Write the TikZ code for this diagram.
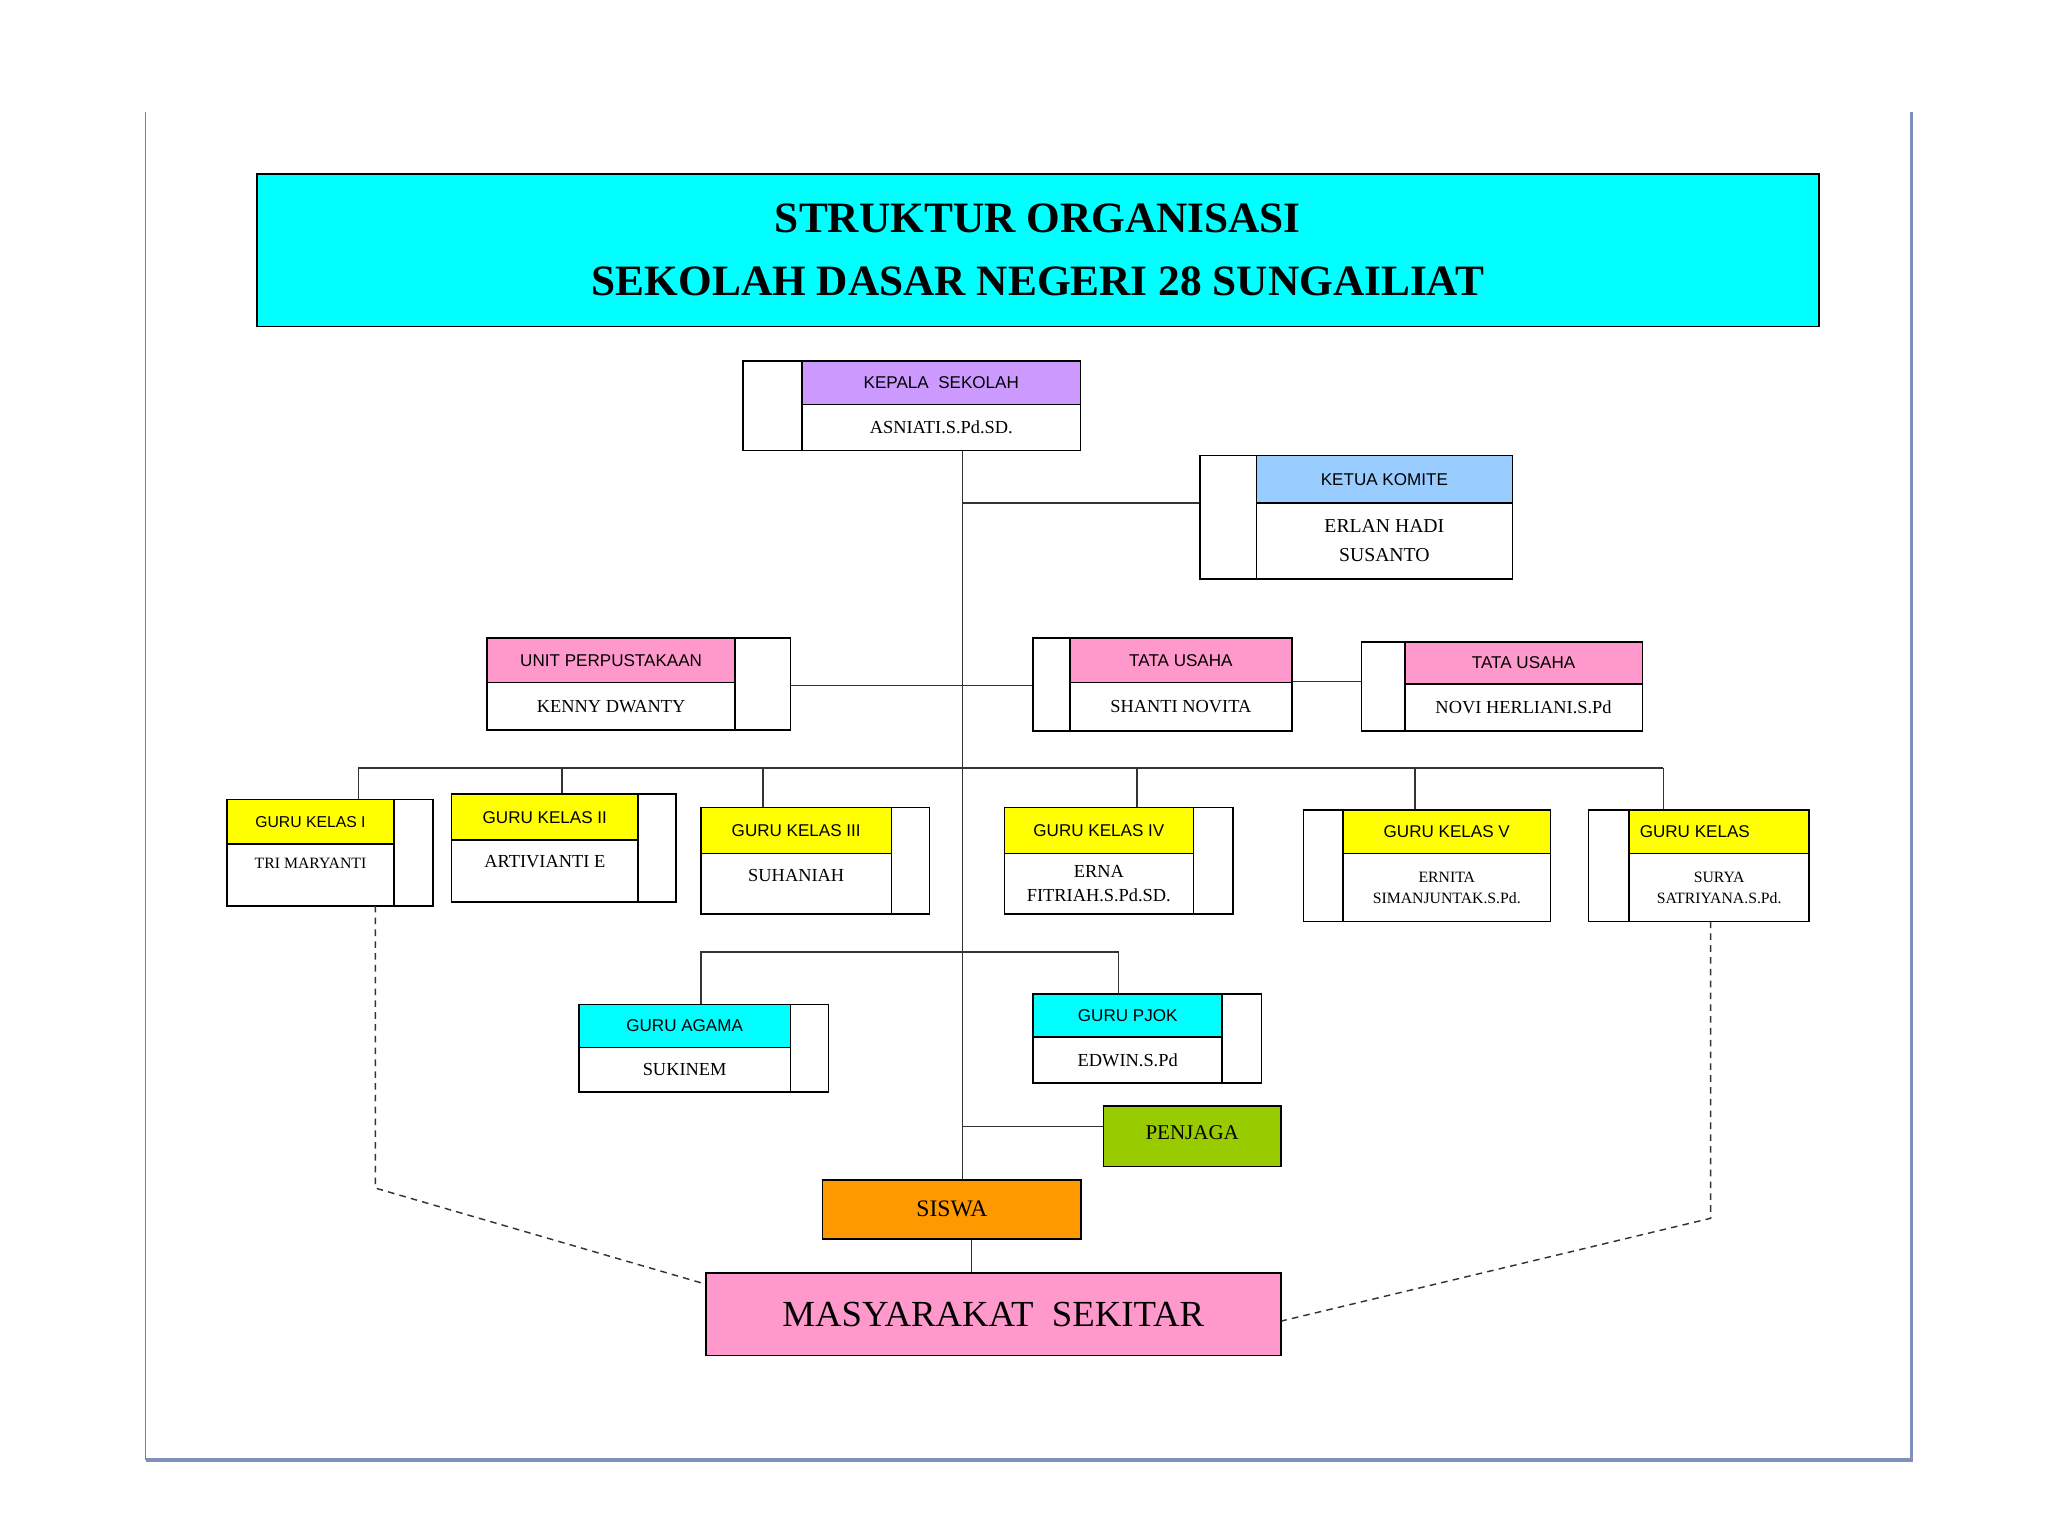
\documentclass[tikz,border=0pt]{standalone}
\usepackage{fontspec}
\usetikzlibrary{calc}
\setmainfont{Liberation Serif}
\newfontfamily\hsans{Liberation Sans}
\definecolor{tcyan}{HTML}{00FFFF}
\definecolor{tpurple}{HTML}{CC99FF}
\definecolor{tblue}{HTML}{99CCFF}
\definecolor{tpink}{HTML}{FF99CC}
\definecolor{tyellow}{HTML}{FFFF00}
\definecolor{tgreen}{HTML}{99CC00}
\definecolor{torange}{HTML}{FF9900}
\definecolor{shadow}{HTML}{8090B8}
\tikzset{
  boxline/.style={draw=black,line width=1.2pt},
  conn/.style={draw=black!80,line width=1.2pt},
  dline/.style={draw=black!80,line width=1.1pt,dash pattern=on 5pt off 4pt},
  htext/.style={font=\hsans\fontsize{13}{15}\selectfont},
  btext/.style={font=\fontsize{14}{16}\selectfont,align=center},
  stext/.style={font=\fontsize{12}{13}\selectfont,align=center},
}
\newcommand\obox[9]{%
  \draw[boxline,fill=white] (#3,#4) rectangle (#5,#6);
  \draw[boxline,fill=#2] (#7,#4) rectangle (#8,#9);
  \draw[boxline] (#7,#9) rectangle (#8,#6);
  \coordinate (#1-h) at ({(#7+#8)/2},{(#4+#9)/2});
  \coordinate (#1-b) at ({(#7+#8)/2},{(#9+#6)/2});
  \coordinate (#1-nw) at (#3,#4);
  \coordinate (#1-se) at (#5,#6);
}
\begin{document}
\begin{tikzpicture}[x=1pt,y=-1pt]
\useasboundingbox (0,0) rectangle (1560,1170);
\fill[white] (0,0) rectangle (1560,1170);
% page frame
\coordinate (pa) at (111,85); \coordinate (pb) at (111,1112);
\coordinate (pc) at (1456,1112); \coordinate (pd) at (1456,85);
\draw[black!50,line width=1pt] (pa) -- (pb);
\draw[shadow,line width=3pt] (pb) -- (pc) -- (pd);
% title
\node[draw=black,line width=1.2pt,fill=tcyan,minimum width=1190pt,minimum height=116pt,anchor=north west,
  font=\bfseries\fontsize{33}{48}\selectfont,align=center] (title) at (195,132)
  {STRUKTUR ORGANISASI\\SEKOLAH DASAR NEGERI 28 SUNGAILIAT};
% junction coordinates
\coordinate (jtop) at (733,343);
\coordinate (jkom) at (733,383);
\coordinate (jtu) at (733,522);
\coordinate (jg) at (733,585);
\coordinate (ja) at (733,725);
\coordinate (jp) at (733,858);
\coordinate (jbot) at (733,898);
% connectors (drawn first)
\draw[conn] (jtop) -- (jbot);
\draw[conn] (jkom) -- (914,383) coordinate (komL);
\draw[conn] (602,522) coordinate (perR) -- (787,522) coordinate (tuL);
\draw[conn] (984,519) coordinate (tuR) -- (1037,519) coordinate (tu2L);
\draw[conn] (273,585) coordinate (gL) -- (1267,585) coordinate (gR);
\foreach \x/\y in {273/609,428/605,581/615,866/615,1078/617,1267/617}
  \draw[conn] (\x,585) -- (\x,\y);
\draw[conn] (534,765) -- (534,725) coordinate (aL) -- (852,725) coordinate (aR) -- (852,757);
\draw[conn] (jp) -- (840,858);
\draw[conn] (740,943) -- (740,969);
% boxes
\obox{kep}{tpurple}{566}{275}{823}{343}{611}{823}{308}
\node[htext] at (kep-h) {KEPALA\ \ SEKOLAH};
\node[btext] at (kep-b) {ASNIATI.S.Pd.SD.};
\obox{kom}{tblue}{914}{347}{1152}{441}{957}{1152}{383}
\node[htext] at (kom-h) {KETUA KOMITE};
\node[btext,font=\fontsize{15}{22}\selectfont] at (kom-b) {ERLAN HADI\\SUSANTO};
\obox{per}{tpink}{371}{486}{602}{556}{371}{560}{520}
\node[htext] at (per-h) {UNIT PERPUSTAKAAN};
\node[btext] at (per-b) {KENNY DWANTY};
\obox{tu}{tpink}{787}{486}{984}{557}{815}{984}{520}
\node[htext] at (tu-h) {TATA USAHA};
\node[btext] at (tu-b) {SHANTI NOVITA};
\obox{tub}{tpink}{1037}{489}{1251}{557}{1070}{1251}{521}
\node[htext] at (tub-h) {TATA USAHA};
\node[btext] at (tub-b) {NOVI HERLIANI.S.Pd};
\obox{g1}{tyellow}{173}{609}{330}{690}{173}{300}{643}
\node[htext,font=\hsans\fontsize{12}{14}\selectfont] at (g1-h) {GURU KELAS I};
\node[stext] at ($(g1-b)+(0,-9)$) {TRI MARYANTI};
\obox{g2}{tyellow}{344}{605}{515}{687}{344}{486}{640}
\node[htext] at (g2-h) {GURU KELAS II};
\node[btext] at ($(g2-b)+(0,-7)$) {ARTIVIANTI E};
\obox{g3}{tyellow}{534}{615}{708}{696}{534}{679}{650}
\node[htext] at (g3-h) {GURU KELAS III};
\node[btext] at ($(g3-b)+(0,-6)$) {SUHANIAH};
\obox{g4}{tyellow}{765}{615}{939}{696}{765}{909}{650}
\node[htext] at (g4-h) {GURU KELAS IV};
\node[btext,font=\fontsize{14}{18}\selectfont] at (g4-b) {ERNA\\FITRIAH.S.Pd.SD.};
\obox{g5}{tyellow}{993}{617}{1181}{702}{1023}{1181}{650}
\node[htext] at (g5-h) {GURU KELAS V};
\node[stext,font=\fontsize{12}{16}\selectfont] at (g5-b) {ERNITA\\SIMANJUNTAK.S.Pd.};
\obox{g6}{tyellow}{1210}{617}{1378}{702}{1241}{1378}{650}
\node[htext,anchor=west] at ($(g6-h)+(-64,0)$) {GURU KELAS};
\node[stext,font=\fontsize{12}{16}\selectfont] at (g6-b) {SURYA\\SATRIYANA.S.Pd.};
\obox{ag}{tcyan}{441}{765}{631}{832}{441}{602}{798}
\node[htext] at (ag-h) {GURU AGAMA};
\node[btext] at (ag-b) {SUKINEM};
\obox{pj}{tcyan}{787}{757}{961}{825}{787}{931}{790}
\node[htext] at (pj-h) {GURU PJOK};
\node[btext] at (pj-b) {EDWIN.S.Pd};
\node[boxline,fill=tgreen,minimum width=135pt,minimum height=46pt,anchor=north west,
  font=\fontsize{16}{18}\selectfont,text depth=6pt] (penjaga) at (840,842) {PENJAGA};
\node[boxline,fill=torange,minimum width=197pt,minimum height=45pt,anchor=north west,
  font=\fontsize{18}{20}\selectfont] (siswa) at (626,898) {SISWA};
\node[boxline,fill=tpink,minimum width=438pt,minimum height=63pt,anchor=north west,
  font=\fontsize{28}{30}\selectfont] (mas) at (537,969) {MASYARAKAT\ \ SEKITAR};
% dashed links
\draw[dline] (286,690) -- (286,905) -- ($(mas.north west)+(0,9)$);
\draw[dline] (1303,702) -- (1303,928) -- ($(mas.south east)+(0,-27)$);
\end{tikzpicture}
\end{document}
